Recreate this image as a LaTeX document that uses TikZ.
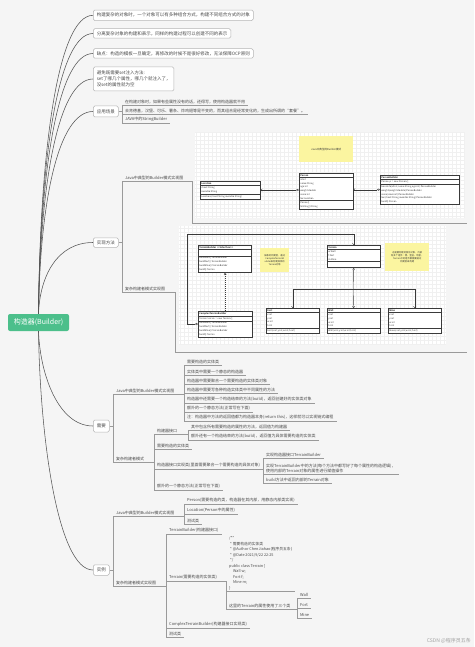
\documentclass[tikz,border=0pt]{standalone}
\usepackage{fontspec}
\newfontfamily\cjk{Noto Sans CJK SC}
\usetikzlibrary{arrows.meta,shapes.multipart}
\definecolor{bgc}{HTML}{F5F5F5}
\definecolor{curvec}{HTML}{555555}
\definecolor{branchc}{HTML}{9A9A9A}
\definecolor{boxc}{HTML}{B5B5B5}
\definecolor{txt}{HTML}{4A4A4A}
\definecolor{rootc}{HTML}{4CBF8B}
\definecolor{gridc}{HTML}{F0F0F0}
\definecolor{notec}{HTML}{FBF5A0}
\definecolor{umlc}{HTML}{3A3A3A}
\definecolor{wmc}{HTML}{A0A0A0}
\tikzset{
  curve/.style={draw=curvec,line width=0.55pt},
  branch/.style={draw=branchc,line width=0.45pt},
  rootbox/.style={fill=rootc,rounded corners=2pt,text=white,font=\cjk\fontsize{7}{8}\selectfont,minimum width=61pt,minimum height=17pt,inner sep=1pt},
  topic/.style={draw=boxc,fill=white,rounded corners=1.5pt,text=txt,font=\cjk\fontsize{4.5}{5.8}\selectfont,inner xsep=3.5pt,inner ysep=2pt,line width=0.5pt,anchor=west,align=left},
  sub/.style={anchor=south west,text=txt,font=\cjk\fontsize{4}{5}\selectfont,inner xsep=3pt,inner ysep=1.1pt,align=left},
  umlbox/.style={rectangle split,rectangle split parts=3,draw=umlc,fill=white,line width=0.4pt,font=\cjk\fontsize{2.3}{3.8}\selectfont,text=umlc,inner xsep=1.2pt,inner ysep=1pt,align=left,anchor=north west},
  umlline/.style={draw=umlc,line width=0.35pt},
  notebox/.style={fill=notec,text=umlc,font=\cjk\fontsize{2.3}{3.2}\selectfont,align=center,anchor=north west,inner sep=1pt},
  dia/.tip={Diamond[open,length=3pt,width=2pt]},
  barb/.tip={Straight Barb[length=1.5pt,width=2.4pt]},
}
\begin{document}
\begin{tikzpicture}[x=1pt,y=-1pt]
\useasboundingbox (0,0) rectangle (474,647);
\fill[bgc] (0,0) rectangle (474,647);

% image panels
\fill[white] (195,132) rectangle (465,218);
\draw[gridc,line width=0.25pt,step=4pt] (195,218) grid (465,132);
\fill[white] (179,226) rectangle (446,344);
\draw[gridc,line width=0.25pt,step=4pt] (179,344) grid (446,226);

% root
\node[rootbox] (root) at (38.5,322.5) {构造器(Builder)};

% first level topics
\node[topic,minimum height=10.5pt] (t1) at (93,15.3) {构建复杂的对象时，一个对象可以有多种组合方式，构建不同组合方式的对象};
\node[topic,minimum height=9.5pt] (t2) at (93,33.5) {分离复杂对象的构建和表示，同样的构建过程可以创建不同的表示};
\node[topic,minimum height=9.5pt] (t3) at (93,53.5) {缺点：构造的模板一旦确定，再修改的时候不是很好修改，无法保障OCP原则};
\node[topic,minimum height=24pt] (t4) at (93,79) {避免既需要set注入方法:\\set了哪几个属性，哪几个就注入了，\\没set的属性就为空};
\node[topic,minimum height=11pt] (app) at (93,111.5) {应用场景};
\node[topic,minimum height=9.5pt] (impl) at (93,242.5) {实现方法};
\node[topic,minimum height=12pt] (need) at (93,426) {需要};
\node[topic,minimum height=10.5pt] (ex) at (93,570) {实例};

% root curves
\foreach \n/\y in {t1/15.3,t2/33.5,t3/53.5,t4/79,app/111.5,impl/242.5}{
  \pgfmathsetmacro\cy{\y+(314-\y)*0.45}
  \draw[curve] (root.north) .. controls (40,\cy) and (58,\y) .. (\n.west);
}
\foreach \n/\y in {need/426,ex/570}{
  \pgfmathsetmacro\cy{331+(\y-331)*0.45}
  \draw[curve] (root.south) .. controls (40,\cy) and (58,\y) .. (\n.west);
}

% 应用场景
\node[sub] (a1) at (122,105) {在构建对象时，如果有些属性没有的话，还得写，使用构造器就不用};
\node[sub] (a2) at (122,114) {去肯德基，汉堡、可乐、薯条、炸鸡翅等是不变的，而其组合是经常变化的，生成出所谓的“套餐”。};
\node[sub] (a3) at (122,123) {JAVA中的StringBuilder};
\draw[branch] (app.east) -- (app.east -| a1.south west);
\draw[branch] (a1.south west) -- (a3.south west);

% 实现方法
\node[sub] (j1) at (122,181) {Java中典型的Builder模式实现图};
\node[sub] (j2) at (122,292) {复杂构建者模式实现图};
\draw[branch] (impl.east) -- (impl.east -| j1.south west);
\draw[branch] (j1.south west) -- (j2.south west);
\coordinate (f1a) at (192,223);
\coordinate (f1b) at (467,223);
\draw[branch] (j1.south west) -| (f1a) -- (f1b);
\coordinate (f2a) at (175,352);
\coordinate (f2b) at (467,352);
\draw[branch] (j2.south west) -| (f2a) -- (f2b);

% UML 1
\node[notebox,minimum width=54pt,minimum height=26pt,font=\cjk\fontsize{2.6}{3.2}\selectfont] (nt0) at (299,136) {Java中典型的Builder模式};
\node[umlbox,text width=57.6pt] (loc) at (200,181) {\centering\textbf{Location}\nodepart{two}street:String\\roomNo:String\nodepart{three}Location(street:String,roomNo:String)};
\node[umlbox,text width=51.6pt] (per) at (299,173) {\centering\textbf{Person}\nodepart{two}id:int\\name:String\\age:int\\weight:double\\score:int\\loc:Location\nodepart{three}Person()\\toString():String};
\node[umlbox,text width=76.6pt] (pb) at (380,175) {\centering\textbf{PersonBuilder}\nodepart{two}Person p = new Person();\nodepart{three}basicInfo(id:int,name:String,age:int):PersonBuilder\\weight(weight:double):PersonBuilder\\score(score:int):PersonBuilder\\loc(street:String,roomNo:String):PersonBuilder\\build():Person};
\draw[umlline,barb-dia] (loc.east) -- (loc.east -| per.west);
\draw[umlline,barb-dia] (per.east |- pb.west) -- (pb.west);

% UML 2
\node[umlbox,text width=50.6pt] (tb) at (198,245) {\centering\textbf{TerrainBuilder <<Interface>>}\nodepart{two}\strut\nodepart{three}buildWall():TerrainBuilder\\buildFort():TerrainBuilder\\buildMine():TerrainBuilder\\build():Terrain};
\node[notebox,minimum width=29pt,minimum height=24pt] (nt1) at (260,248) {抽象的构建者，通过\\ComplexTerrainB\\uilder来构建具体的\\Terrain对象};
\node[umlbox,text width=50.6pt] (ter) at (327,245) {\centering\textbf{Terrain}\nodepart{two}w:Wall\\f:Fort\\m:Mine\nodepart{three}\strut};
\node[notebox,minimum width=44pt,minimum height=28pt] (nt2) at (385,243) {这是要构建的复杂对象，内部\\有多个组件：墙、堡垒、地雷，\\Terrain中的组件都需要通过\\构建者来构建};
\node[umlbox,text width=51.6pt] (ctb) at (198,311) {\centering\textbf{ComplexTerrainBuilder}\nodepart{two}Terrain terrain = new Terrain();\nodepart{three}buildWall():TerrainBuilder\\buildFort():TerrainBuilder\\buildMine():TerrainBuilder\\build():Terrain};
\node[umlbox,text width=50.6pt] (fort) at (266,308) {\centering\textbf{Fort}\nodepart{two}x:int\\y:int\\w:int\\h:int\nodepart{three}Fort(x:int,y:int,w:int,h:int)};
\node[umlbox,text width=50.6pt] (wall) at (327,308) {\centering\textbf{Wall}\nodepart{two}x:int\\y:int\\w:int\\h:int\nodepart{three}Wall(x:int,y:int,w:int,h:int)};
\node[umlbox,text width=50.6pt] (mine) at (388,308) {\centering\textbf{Mine}\nodepart{two}x:int\\y:int\\w:int\\h:int\nodepart{three}Mine(x:int,y:int,w:int,h:int)};
\coordinate (ua) at (187,234);
\draw[umlline,dia-barb] (ctb.west) -| (ua) -| (ter.north);
\draw[umlline,dash pattern=on 1pt off 1pt,-{Triangle[open,length=2.5pt,width=2.5pt]}] (ctb.north) -- (ctb.north |- tb.south);
\coordinate (ub) at (353.5,289);
\draw[umlline,dia-] (ter.south) -- (ub);
\draw[umlline,-barb] (ub) -| (fort.north);
\draw[umlline,-barb] (ub) -- (wall.north);
\draw[umlline,-barb] (ub) -| (mine.north);

% 需要
\node[sub] (n1) at (113,394) {Java中典型的Builder模式实现图};
\node[sub] (n2) at (113,462) {复杂构建者模式};
\draw[branch] (need.east) -- (need.east -| n1.south west);
\draw[branch] (n1.south west) -- (n2.south west);
\node[sub] (n11) at (184,365) {需要构造的实体类};
\node[sub] (n12) at (184,375) {实体类中需要一个静态的构造器};
\node[sub] (n13) at (184,384) {构造器中需要聚合一个需要构造的实体类对象};
\node[sub] (n14) at (184,393) {构造器中需要写各种构造实体类中不同属性的方法};
\node[sub] (n15) at (184,403) {构造器中还需要一个构造结束的方法(build)，返回创建好的实体类对象};
\node[sub] (n16) at (184,412) {额外的一个静态方法(正常写在下面)};
\node[sub] (n17) at (184,421) {注：构造器中方法的返回值都为构造器本身(return this)，这样就可以实现链式编程};
\draw[branch] (n1.south west) -- (n1.south west -| n11.south west);
\draw[branch] (n11.south west) -- (n17.south west);
\node[sub] (m1) at (154,434) {构建器接口};
\node[sub] (m2) at (154,449) {需要构造的实体类};
\node[sub] (m3) at (154,469) {构造器接口实现类(里面需要聚合一个需要构造的具体对象)};
\node[sub] (m4) at (154,490) {额外的一个静态方法(正常写在下面)};
\draw[branch] (n2.south west) -- (n2.south west -| m1.south west);
\draw[branch] (m1.south west) -- (m4.south west);
\node[sub] (m11) at (188,430) {其中包含所有需要构造的属性的方法，返回值为构建器};
\node[sub] (m12) at (188,440) {额外还有一个构造结束的方法(build)，返回值为具体需要构造的实体类};
\draw[branch] (m1.south west) -- (m1.south west -| m11.south west);
\draw[branch] (m11.south west) -- (m12.south west);
\node[sub] (m31) at (263,458) {实现构造器接口TerrainBuilder};
\node[sub] (m32) at (263,474) {实现TerrainBuilder中的方法(每个方法中都写好了每个属性的构造逻辑)，\\使用内部的Terrain对象的属性进行赋值操作};
\node[sub] (m33) at (263,483) {build方法中返回内部的Terrain对象};
\draw[branch] (m3.south west) -- (m3.south west -| m31.south west);
\draw[branch] (m31.south west) -- (m33.south west);

% 实例
\node[sub] (e1) at (113,516) {Java中典型的Builder模式实现图};
\node[sub] (e2) at (113,586) {复杂构建者模式实现图};
\draw[branch] (ex.east) -- (ex.east -| e1.south west);
\draw[branch] (e1.south west) -- (e2.south west);
\node[sub] (e11) at (184,504) {Person(需要构造的类，构造器在其内部，用静态内部类实现)};
\node[sub] (e12) at (184,514) {Location(Person中的属性)};
\node[sub] (e13) at (184,524) {测试类};
\draw[branch] (e1.south west) -- (e1.south west -| e11.south west);
\draw[branch] (e11.south west) -- (e13.south west);
\node[sub] (e21) at (166,534) {TerrainBuilder(构建器接口)};
\node[sub] (e22) at (166,581) {Terrain(需要构造的实体类)};
\node[sub] (e23) at (166,628) {ComplexTerrainBuilder(构建器接口实现类)};
\node[sub] (e24) at (166,637) {测试类};
\draw[branch] (e2.south west) -- (e2.south west -| e21.south west);
\draw[branch] (e21.south west) -- (e24.south west);
\node[sub,font=\cjk\fontsize{3.8}{5.5}\selectfont] (code) at (226,591) {/**\\\hspace*{1pt}* 需要构造的实体类\\\hspace*{1pt}* @Author ChenJiahao(程序员五条)\\\hspace*{1pt}* @Date 2021/9/22 22:25\\\hspace*{1pt}*/\\public class Terrain \{\\\hspace*{4pt}Wall w;\\\hspace*{4pt}Fort f;\\\hspace*{4pt}Mine m;\\\}};
\node[sub] (e222) at (226,609) {这里的Terrain的属性使用了三个类};
\draw[branch] (e22.south west) -- (e22.south west -| code.south west);
\draw[branch] (e22.south west -| code.south west) -- (e222.south west);
\node[sub] (w1) at (297,598) {Wall};
\node[sub] (f1) at (297,608) {Fort};
\node[sub] (mi1) at (297,618) {Mine};
\draw[branch] (e222.south west) -- (e222.south west -| w1.south west);
\draw[branch] (w1.south west) -- (mi1.south west);

% simple underlines
\foreach \n in {a1,a2,a3,n11,n12,n13,n14,n15,n16,n17,m2,m4,m11,m12,m31,m32,m33,e11,e12,e13,e21,e23,e24,code,w1,f1,mi1}{
  \draw[branch] (\n.south west) -- (\n.south east);
}

% watermark
\node[anchor=east,text=wmc,font=\cjk\fontsize{5}{6}\selectfont,inner sep=0pt] (wm) at (471,641) {CSDN @程序员五条};
\end{tikzpicture}
\end{document}
